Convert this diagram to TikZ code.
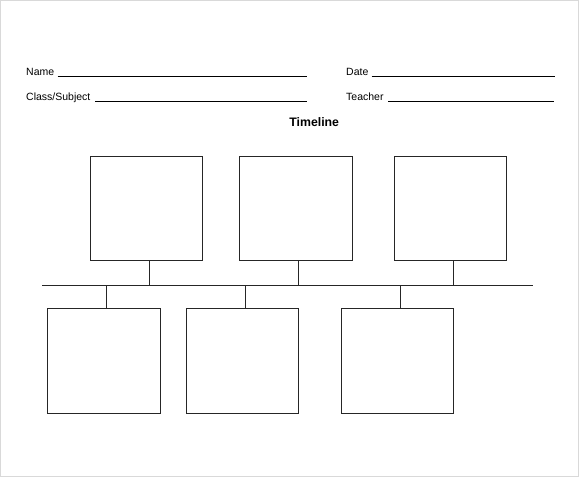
\documentclass[tikz,border=0pt]{standalone}
\usepackage{fontspec}
\setmainfont{Liberation Sans}
\usepackage{tikz}

\begin{document}
\begin{tikzpicture}[x=1pt,y=-1pt,
  card/.style={draw=black!85,line width=0.9pt,minimum width=112.7pt,minimum height=104.5pt,inner sep=0pt},
  field/.style={anchor=base west,inner sep=0pt,font=\fontsize{10.5}{12}\selectfont},
  blank/.style={line width=1.3pt}]
 \useasboundingbox (0,0) rectangle (580,480);
 \draw[gray!30,line width=1pt] (0.5,0.5) rectangle (578.5,476.5);

 \node [field] (name)    at (26,75)    {Name};
 \node [field] (class)   at (26,100.3) {Class/Subject};
 \node [field] (date)    at (346,75)   {Date};
 \node [field] (teacher) at (346,100.3){Teacher};
 \draw[blank] (57.7,76.3) -- (306.7,76.3)
              (95,101.3) -- (307.3,101.3)
              (371.7,76.3) -- (555.3,76.3)
              (388.3,101.7) -- (554,101.7);
 \node [anchor=base,inner sep=0pt,font=\bfseries\fontsize{12.3}{14}\selectfont] (title) at (314.2,126.7) {Timeline};

 \coordinate (tlL) at (42.3,285);
 \coordinate (tlR) at (532.7,285);
 \draw[black!85,line width=0.9pt] (tlL) -- (tlR);

 \foreach \x [count=\i] in {146.3,295.8,450.5}
   {\node [card] (t\i) at (\x,208.3) {};
    \draw[black!85,line width=0.9pt] ([xshift=3pt]t\i.south) -- ([xshift=3pt]t\i.south |- tlL);}
 \foreach \x [count=\i] in {103.8,242.5,397.3}
   {\node [card] (b\i) at (\x,360.8) {};
    \draw[black!85,line width=0.9pt] ([xshift=3pt]b\i.north) -- ([xshift=3pt]b\i.north |- tlL);}
\end{tikzpicture}
\end{document}
